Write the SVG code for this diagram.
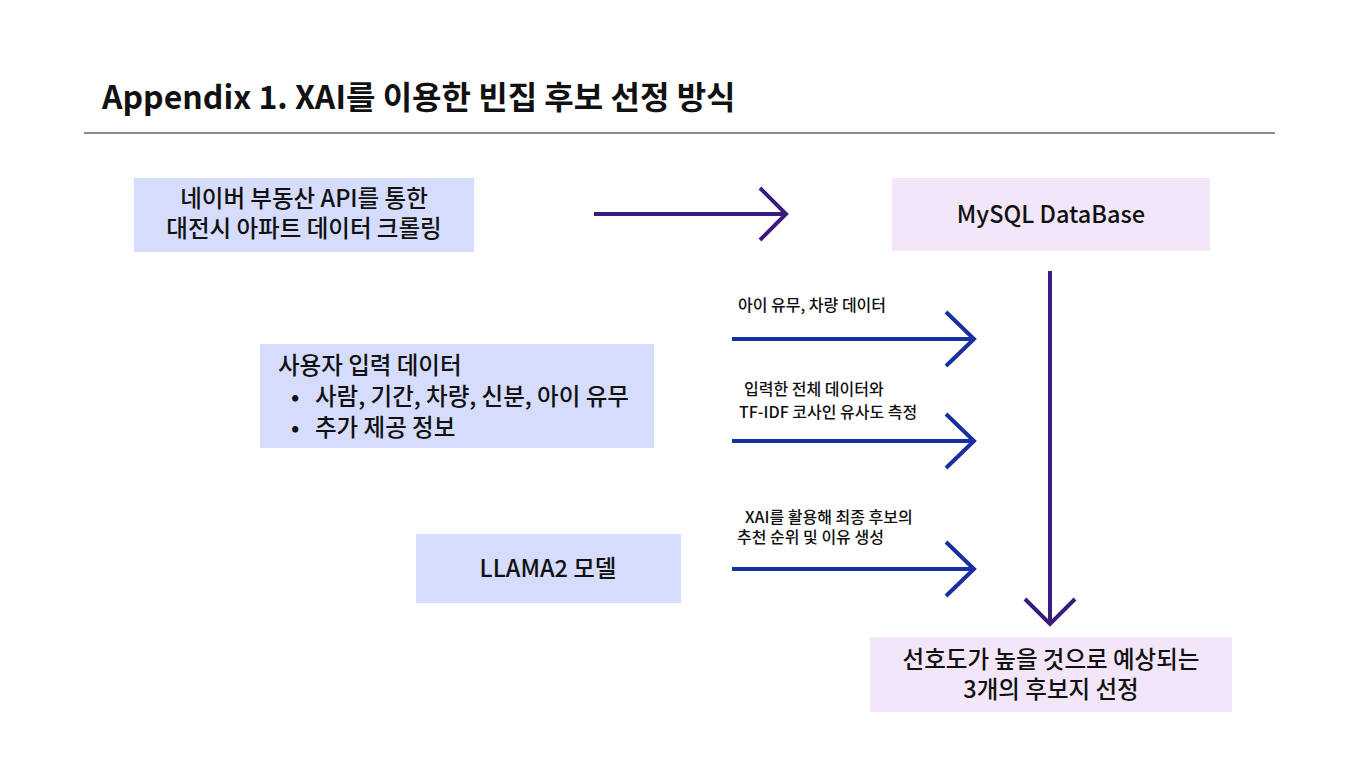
<svg xmlns="http://www.w3.org/2000/svg" width="1358" height="762" viewBox="0 0 1358 762">
<style>
text{font-family:"Noto Sans CJK KR","Noto Sans",sans-serif;fill:#111}
.t{font-size:23.5px;font-weight:500}
.s{font-size:16px;font-weight:500}
.blue{fill:#d6dcfc}
.pink{fill:#f2e6f8}
.pa{stroke:#3b1b7e;stroke-width:4;fill:none}
.ba{stroke:#1630a4;stroke-width:4;fill:none}
</style>
<rect width="1358" height="762" fill="#fff"/>
<text x="102" y="109" style="font-size:32px;font-weight:700">Appendix 1. XAI를 이용한 빈집 후보 선정 방식</text>
<line x1="84" y1="133" x2="1275" y2="133" stroke="#666" stroke-width="1.5"/>
<g id="n1"><rect class="blue" x="134" y="178" width="340" height="74"/>
<text class="t" x="304" y="207" text-anchor="middle">네이버 부동산 API를 통한</text>
<text class="t" x="304" y="237" text-anchor="middle">대전시 아파트 데이터 크롤링</text></g>
<g id="n2"><rect class="pink" x="892" y="178" width="318" height="73"/>
<text class="t" x="1051" y="223" text-anchor="middle">MySQL DataBase</text></g>
<g id="n3"><rect class="blue" x="260" y="344" width="394" height="104"/>
<text class="t" x="278" y="374">사용자 입력 데이터</text>
<text class="t" x="291" y="405">•</text><text class="t" x="315" y="405">사람, 기간, 차량, 신분, 아이 유무</text>
<text class="t" x="291" y="436">•</text><text class="t" x="315" y="436">추가 제공 정보</text></g>
<g id="n4"><rect class="blue" x="416" y="534" width="265" height="69"/>
<text class="t" x="548" y="577" text-anchor="middle">LLAMA2 모델</text></g>
<g id="n5"><rect class="pink" x="870" y="637" width="362" height="75"/>
<text class="t" x="1051" y="668" text-anchor="middle">선호도가 높을 것으로 예상되는</text>
<text class="t" x="1051" y="698" text-anchor="middle">3개의 후보지 선정</text></g>
<g id="connectors">
<path class="pa" d="M594 214H786M760 188L786 214L760 240"/>
<path class="pa" d="M1050 271V624M1025 599L1050 624L1075 599"/>
<path class="ba" d="M732 339H974M946 312L974 339L946 366"/>
<path class="ba" d="M732 441H974M946 414L974 441L946 468"/>
<path class="ba" d="M732 569H974M946 542L974 569L946 596"/>
<text class="s" x="738" y="311">아이 유무, 차량 데이터</text>
<text class="s" x="744" y="395">입력한 전체 데이터와</text>
<text class="s" x="739" y="418">TF-IDF 코사인 유사도 측정</text>
<text class="s" x="745" y="523">XAI를 활용해 최종 후보의</text>
<text class="s" x="737" y="543">추천 순위 및 이유 생성</text>
</g>
</svg>
